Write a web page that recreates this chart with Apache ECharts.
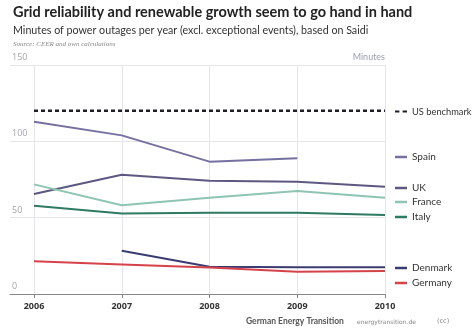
<!DOCTYPE html>
<html><head><meta charset="utf-8">
<script src="https://cdn.jsdelivr.net/npm/echarts@6/dist/echarts.min.js"></script>
<style>html,body{margin:0;padding:0;background:#fff}#c{width:474px;height:334px}</style>
</head><body><div id="c"></div>
<script>
const years = [2006, 2007, 2008, 2009, 2010];
const usBenchmark = [120, 120, 120, 120, 120];
const spain = [112.8, 103.9, 86.7, 88.9, null];
const uk = [65.5, 78.1, 74.2, 73.5, 70.3];
const france = [71.8, 58.1, 63.1, 67.5, 63.1];
const italy = [57.8, 52.8, 53.3, 53.3, 51.7];
const denmark = [null, 28.4, 17.9, 17.5, 17.5];
const germany = [21.4, 19.4, 17.3, 14.6, 15.1];
const yTicks = [0, 50, 100, 150];

const seriesDefs = [
  {name: 'US benchmark', data: usBenchmark, color: '#1e1e2a', dashed: true, legendTop: 102, fs: 9.3},
  {name: 'Spain', data: spain, color: '#7470a0', legendTop: 147},
  {name: 'UK', data: uk, color: '#5c5882', legendTop: 178},
  {name: 'France', data: france, color: '#8ec5b1', legendTop: 192},
  {name: 'Italy', data: italy, color: '#2f7a62', legendTop: 207},
  {name: 'Denmark', data: denmark, color: '#3b3b72', legendTop: 258},
  {name: 'Germany', data: germany, color: '#d6424a', legendTop: 273}
];

const legendFont = 'Lato,"Open Sans",sans-serif';
const chart = echarts.init(document.getElementById('c'), null, {renderer: 'canvas'});
chart.setOption({
  animation: false,
  backgroundColor: '#fff',
  title: [
    {text: 'Grid reliability and renewable growth seem to go hand in hand', left: 8, top: 0,
     textStyle: {fontFamily: 'Lato,sans-serif', fontSize: 14.5, fontWeight: 'bold', color: '#222'}},
    {text: 'Minutes of power outages per year (excl. exceptional events), based on Saidi', left: 8, top: 20,
     textStyle: {fontFamily: 'Lato,sans-serif', fontSize: 10.7, fontWeight: 'normal', color: '#333'}},
    {text: 'Source: CEER and own calculations', left: 8, top: 36,
     textStyle: {fontFamily: '"Liberation Serif",serif', fontSize: 7, fontStyle: 'italic', fontWeight: 'normal', color: '#888'}},
    {text: 'Minutes', right: 84, top: 48,
     textStyle: {fontFamily: legendFont, fontSize: 9, fontWeight: 'normal', color: '#9aa0b0'}},
    {text: 'German Energy Transition', left: 241, top: 312,
     textStyle: {fontFamily: legendFont, fontSize: 8.5, fontWeight: 'bold', color: '#555'}},
    {text: 'energytransition.de', left: 352, top: 314,
     textStyle: {fontFamily: '"DejaVu Sans",sans-serif', fontSize: 6, fontWeight: 'normal', color: '#888'}},
    {text: '(cc)', left: 432, top: 313,
     textStyle: {fontFamily: '"DejaVu Sans",sans-serif', fontSize: 6.5, fontWeight: 'normal', color: '#888'}}
  ],
  grid: [
    {left: 10, right: 89, top: 65, bottom: 40},
    {left: 34, right: 89, top: 65, bottom: 40}
  ],
  xAxis: [
    {gridIndex: 0, type: 'value', min: 0, max: 1, axisLine: {show: true, lineStyle: {color: '#888', width: 1}},
     axisTick: {show: false}, axisLabel: {show: false}, splitLine: {show: false}},
    {gridIndex: 1, type: 'value', min: years[0], max: years[years.length - 1], interval: 1,
     axisLine: {show: false}, axisTick: {show: true, length: 4, lineStyle: {color: '#888'}},
     axisLabel: {formatter: v => String(v), color: '#333', fontSize: 9, margin: 8,
                 fontFamily: '"Open Sans",sans-serif', fontWeight: 'bold'},
     splitLine: {show: true, lineStyle: {color: '#e4e6ea', width: 1}}}
  ],
  yAxis: [
    {gridIndex: 0, type: 'value', min: yTicks[0], max: yTicks[yTicks.length - 1], interval: 50,
     axisLine: {show: false}, axisTick: {show: false},
     axisLabel: {inside: true, verticalAlign: 'bottom', margin: 2, color: '#a0a4ad', fontSize: 9,
                 fontFamily: '"Open Sans",sans-serif', padding: [0, 0, 3, 0]},
     splitLine: {show: true, lineStyle: {color: '#e4e6ea', width: 1}}},
    {gridIndex: 1, type: 'value', min: yTicks[0], max: yTicks[yTicks.length - 1], show: false}
  ],
  legend: seriesDefs.map(s => ({
    data: [{name: s.name, icon: s.dashed ? 'path://M0,0H4V2H0Z M7,0H11V2H7Z' : 'rect'}],
    left: 390, top: s.legendTop, itemWidth: 12, itemHeight: 2.5, itemGap: 6,
    selectedMode: false,
    textStyle: {fontFamily: legendFont, fontSize: s.fs || 10, color: '#333'}
  })),
  series: seriesDefs.map(s => ({
    name: s.name, type: 'line', xAxisIndex: 1, yAxisIndex: 1,
    data: years.map((y, i) => [y, s.data[i]]),
    showSymbol: false, symbol: 'none', connectNulls: false,
    color: s.color,
    lineStyle: {color: s.color, width: s.dashed ? 2.5 : 2, type: s.dashed ? [4, 3] : 'solid'},
    z: s.dashed ? 3 : 2
  }))
});
</script></body></html>
